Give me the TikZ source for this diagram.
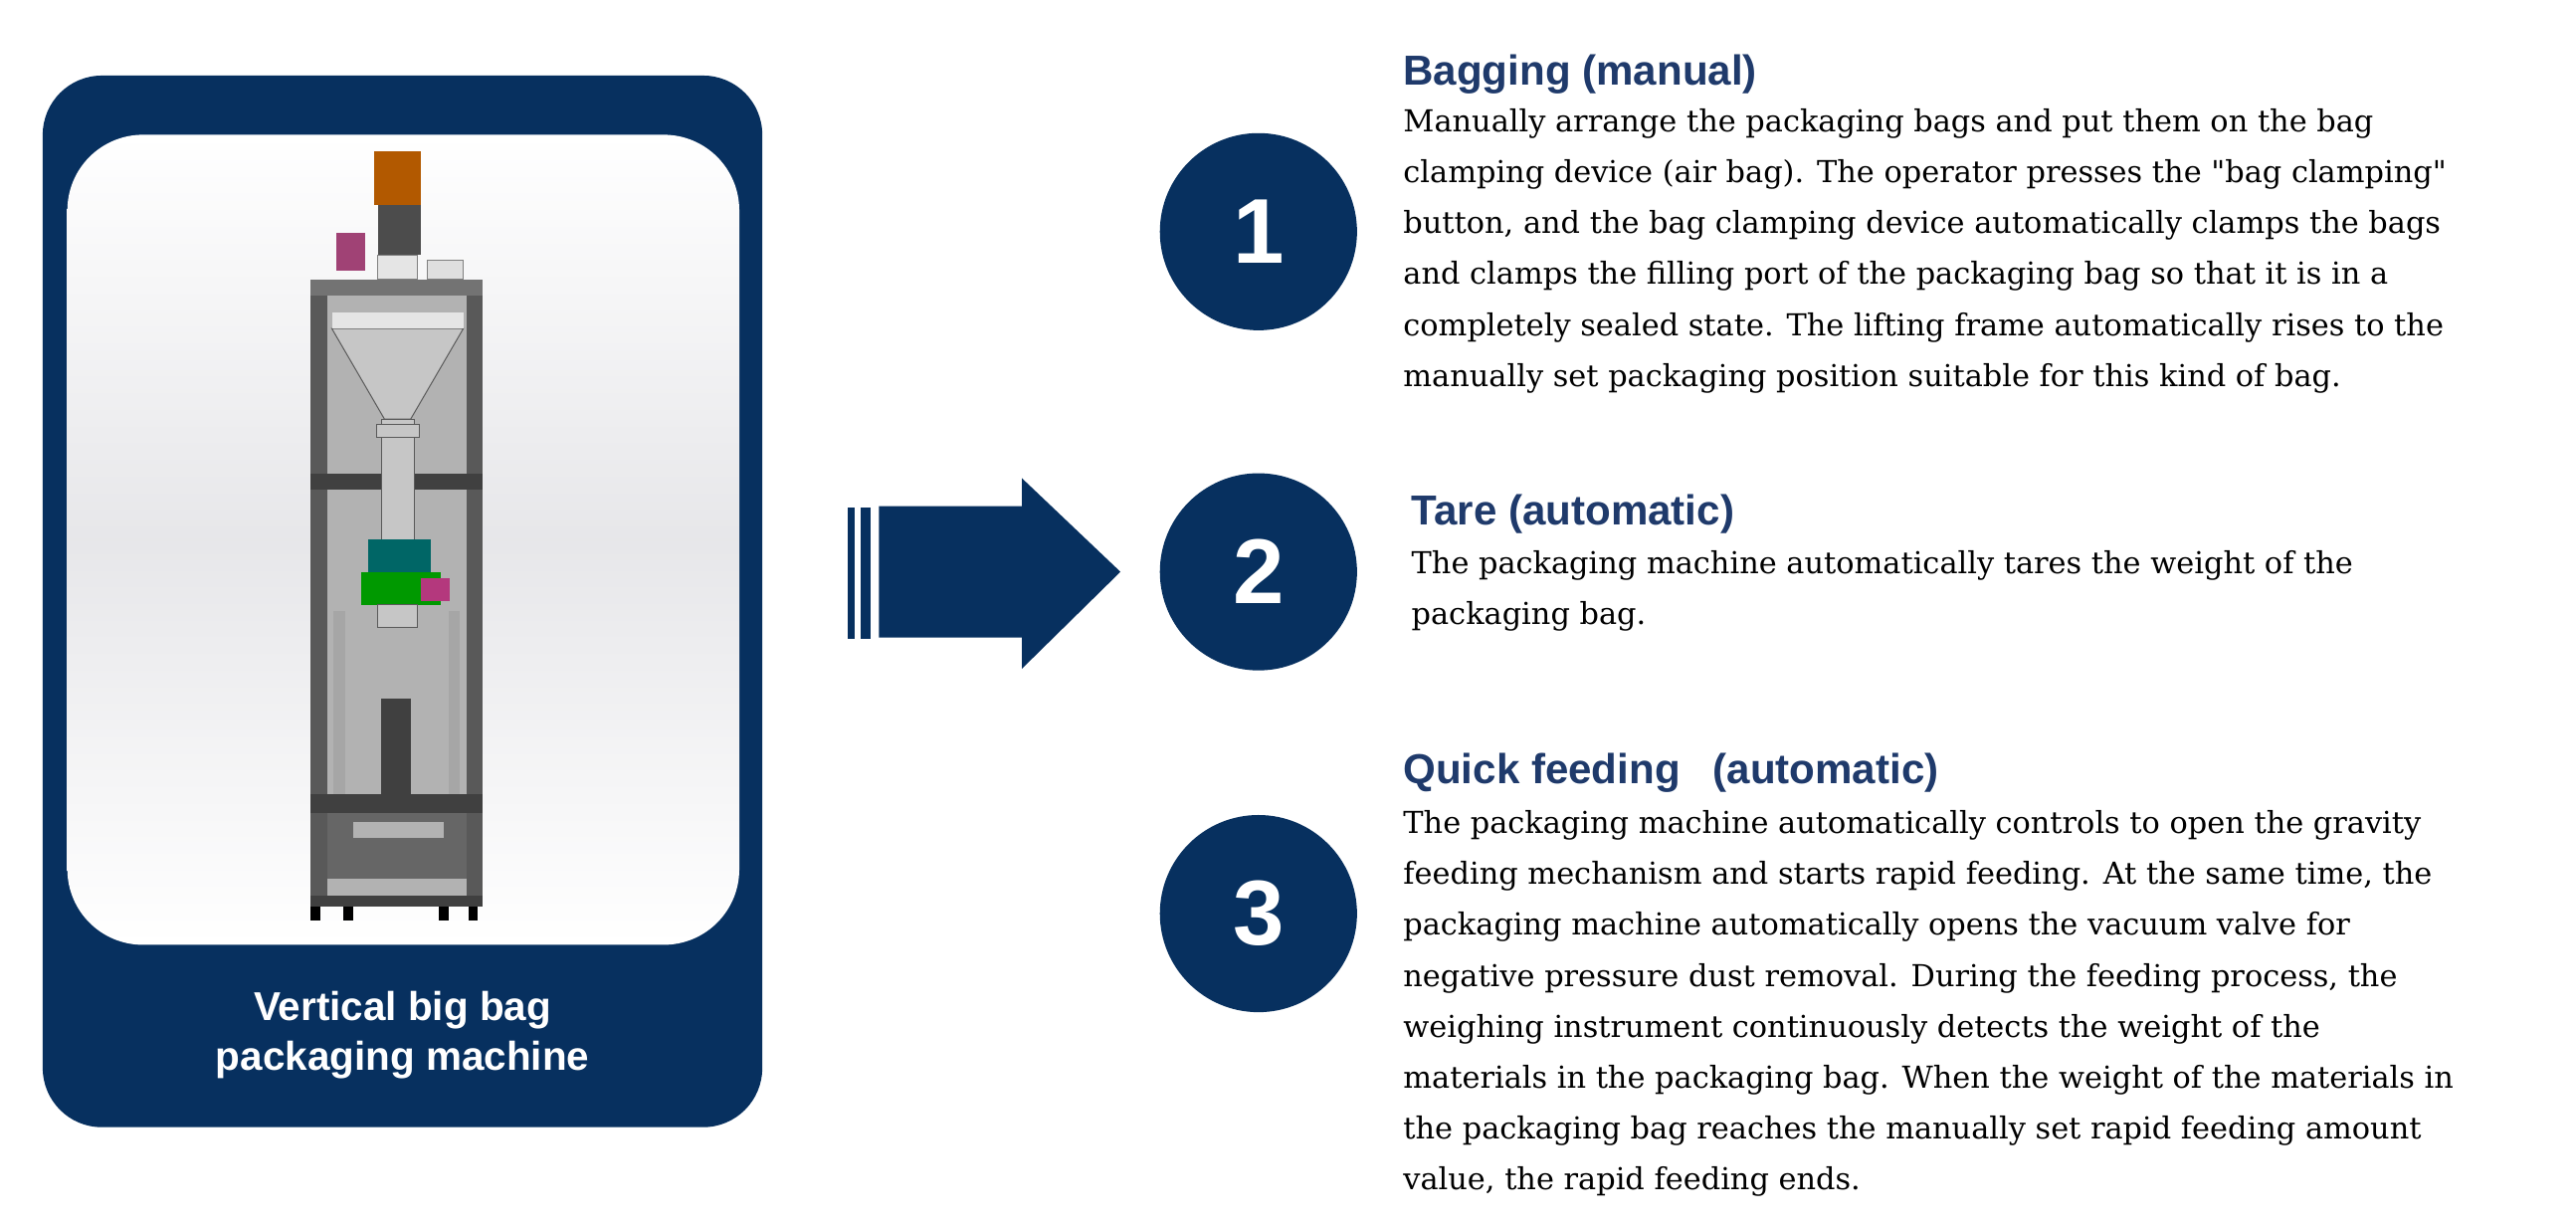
\documentclass[tikz,border=0pt]{standalone}
\usepackage{fontspec}
\setmainfont{DejaVu Serif}[Ligatures=TeXOff]
\newfontfamily\hd{Liberation Sans}
\definecolor{navy}{HTML}{07305F}
\definecolor{ttl}{HTML}{1F3A6B}
\tikzset{
 num/.style={circle,fill=navy,minimum size=120pt,inner sep=0,text=white,font=\hd\bfseries\fontsize{56}{56}\selectfont},
 ttlnode/.style={anchor=north west,inner sep=0,text=ttl,font=\hd\bfseries\fontsize{25.5}{28}\selectfont},
 body/.style={anchor=north west,inner sep=0,align=left,font=\fontsize{18.4}{31}\selectfont},
 metal/.style={fill=gray!45,draw=gray!70!black,line width=0.6pt},
 dark/.style={fill=black!70,draw=black,line width=0.5pt}
}
\begin{document}
\begin{tikzpicture}[x=1pt,y=-1pt]
\useasboundingbox (0,0) rectangle (1568,748);
\fill[white] (0,0) rectangle (1568,748);
% card
\fill[navy,rounded corners=36pt] (26,46) rectangle (464,686);
\shade[top color=white,bottom color=white,middle color=blue!6!gray!18,rounded corners=46pt] (41,82) rectangle (450,575);
\node[text=white,align=center,font=\hd\bfseries\fontsize{24.5}{30}\selectfont] (cap) at (245,630) {Vertical big bag\\packaging machine};
% machine
\fill[black!55] (189,170) rectangle (294,180);
\fill[black!65] (189,180) rectangle (199,545);
\fill[black!65] (284,180) rectangle (294,545);
\fill[black!30] (199,180) rectangle (284,545);
\fill[black!75] (189,288) rectangle (294,298);
\fill[black!75] (189,483) rectangle (294,495);
\fill[black!60] (199,495) rectangle (284,535);
\fill[gray!60] (215,500) rectangle (270,510);
\fill[black!75] (232,425) rectangle (250,483);
\fill[gray!70] (203,372) rectangle (210,483);
\fill[gray!70] (273,372) rectangle (280,483);
\fill[black!75] (189,545) rectangle (294,552);
\foreach \x in {192,212,270,288} \fill[black] (\x-3,552) rectangle (\x+3,560);
\fill[metal] (202,200) -- (282,200) -- (250,255) -- (234,255) -- cycle;
\fill[gray!20] (202,190) rectangle (282,200);
\fill[metal] (232,255) rectangle (252,330);
\fill[metal] (229,258) rectangle (255,266);
\fill[teal!80!black] (224,328) rectangle (262,348);
\fill[green!60!black] (220,348) rectangle (268,368);
\fill[magenta!70!black] (256,352) rectangle (274,366);
\fill[metal] (230,368) rectangle (254,382);
\fill[gray!20,draw=gray] (230,155) rectangle (254,170);
\fill[black!70] (230,125) rectangle (256,155);
\fill[orange!70!black] (228,92) rectangle (256,125);
\fill[magenta!60!black] (205,142) rectangle (222,165);
\fill[gray!25,draw=gray] (260,158) rectangle (282,170);
% arrow
\fill[navy] (516,309) rectangle (520,389);
\fill[navy] (524,309) rectangle (530,389);
\fill[navy] (535,308) -- (622,308) -- (622,291) -- (682,348) -- (622,407) -- (622,388) -- (535,388) -- cycle;
% circles
\node[num] (n1) at (766,141) {1};
\node[num] (n2) at (766,348) {2};
\node[num] (n3) at (766,556) {3};
% texts
\node[ttlnode] (t1) at (854,33) {Bagging (manual)};
\node[body] (b1) at (854,66) {Manually arrange the packaging bags and put them on the bag\\clamping device (air bag). The operator presses the "bag clamping"\\button, and the bag clamping device automatically clamps the bags\\and clamps the filling port of the packaging bag so that it is in a\\completely sealed state. The lifting frame automatically rises to the\\manually set packaging position suitable for this kind of bag.};
\node[ttlnode] (t2) at (859,301) {Tare (automatic)};
\node[body] (b2) at (859,335) {The packaging machine automatically tares the weight of the\\packaging bag.};
\node[ttlnode] (t3) at (854,458) {Quick feeding\enspace\ (automatic)};
\node[body] (b3) at (854,493) {The packaging machine automatically controls to open the gravity\\feeding mechanism and starts rapid feeding. At the same time, the\\packaging machine automatically opens the vacuum valve for\\negative pressure dust removal. During the feeding process, the\\weighing instrument continuously detects the weight of the\\materials in the packaging bag. When the weight of the materials in\\the packaging bag reaches the manually set rapid feeding amount\\value, the rapid feeding ends.};
\end{tikzpicture}
\end{document}
